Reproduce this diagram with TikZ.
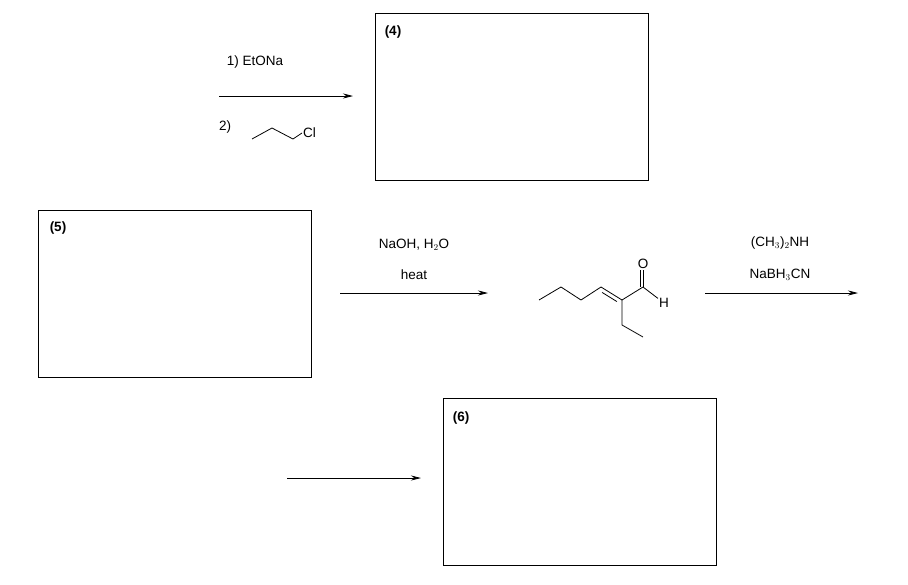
\documentclass[tikz,border=0pt]{standalone}
\usepackage{fontspec}
\setmainfont{Liberation Sans}
\usetikzlibrary{arrows.meta,calc}
\tikzstyle{box}=[draw=black,line width=0.8pt,minimum width=273pt,minimum height=167pt,inner sep=0pt]
\tikzstyle{tag}=[font=\bfseries\fontsize{13.5}{16}\selectfont,inner sep=0pt]
\tikzstyle{txt}=[font=\fontsize{13.5}{16}\selectfont,inner sep=0pt]
\tikzstyle{atom}=[font=\fontsize{13.5}{16}\selectfont,inner sep=1pt]
\tikzstyle{rxn}=[-{Stealth[length=10pt,width=5pt]},line width=0.8pt]
\tikzstyle{bond}=[line width=0.8pt]
\begin{document}
\begin{tikzpicture}[x=1pt,y=-1pt]
      \useasboundingbox (0,0) rectangle (908,584);

      % boxes
      \node[box,anchor=north west] (b4) at (375,13) {};
      \node[box,anchor=north west] (b5) at (38,210) {};
      \node[box,anchor=north west] (b6) at (443,398) {};
      \node[tag] (t4) at (393,32) {(4)};
      \node[tag] (t5) at (58,228) {(5)};
      \node[tag] (t6) at (461,418) {(6)};

      % arrows
      \coordinate (s1) at (219,96);  \coordinate (e1) at (353,96);
      \coordinate (s2) at (340,293); \coordinate (e2) at (488,293);
      \coordinate (s3) at (705,293); \coordinate (e3) at (858,293);
      \coordinate (s4) at (287,478); \coordinate (e4) at (421,478);
      \foreach \i in {1,...,4}{
        \draw[rxn] (s\i) -- (e\i);
      }

      % reagents
      \node[txt] (r1) at (255,62) {1) EtONa};
      \node[txt] (r2) at (225,127) {2)};
      \node[txt] (r3) at (414,245) {NaOH, H$_2$O};
      \node[txt] (r4) at (414,275) {heat};
      \node[txt] (r5) at (780,243) {(CH$_3$)$_2$NH};
      \node[txt] (r6) at (780,275) {NaBH$_3$CN};

      % propyl chloride
      \coordinate (p1) at (252,139);
      \coordinate (p2) at (272,128);
      \coordinate (p3) at (293,139);
      \node[atom,anchor=west] (cl) at (302,133) {Cl};
      \draw[bond] (p1) -- (p2) -- (p3) -- (cl.west);

      % 2-ethylhex-2-enal
      \coordinate (c6) at (539,300);
      \coordinate (c5) at (561,287);
      \coordinate (c4) at (581,300);
      \coordinate (c3) at (601,287);
      \coordinate (c2) at (622,300);
      \coordinate (c1) at (643,287);
      \coordinate (c7) at (622,325);
      \coordinate (c8) at (643,337);
      \node[atom] (o) at (643,264) {O};
      \node[atom] (h) at (664,303) {H};
      \draw[bond] (c6) -- (c5) -- (c4) -- (c3) -- (c2) -- (c1) -- (h);
      \draw[bond] ($(c3)!0.15!(c2)+(-2,3.5)$) -- ($(c3)!0.85!(c2)+(-2,3.5)$);
      \draw[bond] (c2) -- (c7) -- (c8);
      \draw[bond] (c1) -- (o.south);
      \draw[bond] ($(c1)+(-3,0)$) -- ($(o.south)+(-3,0)$);
       \end{tikzpicture}
\end{document}
